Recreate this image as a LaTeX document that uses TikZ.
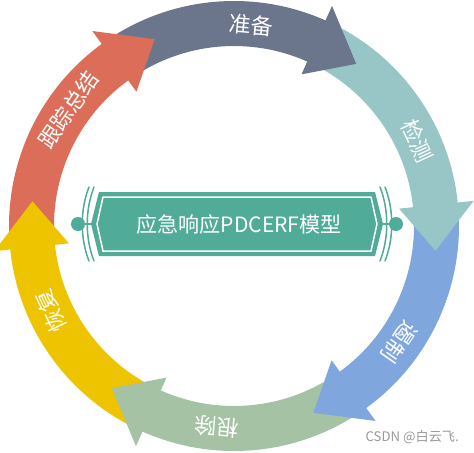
\documentclass[tikz,border=0pt]{standalone}
\usepackage{fontspec}
\newfontfamily\cjk{Noto Sans CJK SC}
\usetikzlibrary{calc,positioning}

\begin{document}
\begin{tikzpicture} [x=0.2mm, y=0.2mm,
    steplabel/.style={text=white, inner sep=0pt, font=\cjk\fontsize{12.5}{14}\selectfont},
    bannerline/.style={cbanner, line width=0.3mm, line cap=round}
  ]

\definecolor{cprep}{RGB}{107,118,141}
\definecolor{cdetect}{RGB}{152,198,198}
\definecolor{ccontain}{RGB}{128,166,222}
\definecolor{cerad}{RGB}{165,194,165}
\definecolor{crecov}{RGB}{238,195,0}
\definecolor{cfollow}{RGB}{220,109,89}
\definecolor{cbanner}{RGB}{80,171,152}

\useasboundingbox (-234,-226) rectangle (240,226);

% ring bodies (tails end up under the previous head)
\foreach \t/\col in {54/cprep, -6/cdetect, -66/ccontain, -126/cerad, 174/crecov, 114/cfollow}{
  \fill[\col] (\t+70:225) arc[start angle=\t+70, end angle=\t+9, radius=225]
     -- (\t+9:180) arc[start angle=\t+9, end angle=\t+70, radius=180] -- cycle;
}

% arrow heads
\foreach \t/\col in {54/cprep, -6/cdetect, -66/ccontain, -126/cerad, 174/crecov, 114/cfollow}{
  \fill[\col] (\t+12:241) -- (\t-1:203) -- (\t+12:166) -- cycle;
}

% step names
\foreach \t/\txt/\nm in {54/准备/prep, -6/检测/detect, -66/遏制/contain, -126/根除/erad, 174/恢复/recov, 114/跟踪总结/follow}{
  \node[steplabel, rotate=\t-59] (\nm) at (\t+31:202) {\txt};
}

% banner
\begin{scope}[shift={(3,2)}]
\fill[cbanner] (-138,32) -- (138,32) -- (146,0) -- (138,-32) -- (-138,-32) -- (-146,0) -- cycle;
\draw[white, line width=0.3mm] (-134,27) -- (134,27) -- (140,0) -- (134,-27) -- (-134,-27) -- (-140,0) -- cycle;

% ornaments at both ends
\foreach \s in {-1,1}{
  \draw[bannerline] (\s*143,37) .. controls (\s*152,14) and (\s*152,-14) .. (\s*143,-37);
  \draw[bannerline] (\s*148,37) .. controls (\s*157,14) and (\s*157,-14) .. (\s*148,-37);
  \draw[bannerline] (\s*146,0) -- (\s*159,0);
  \fill[cbanner] (\s*159,0) circle (7);
}

\node[text=white, font=\cjk\fontsize{12}{14}\selectfont] (title) at (2,0) {应急响应PDCERF模型};
\end{scope}

% watermark
\node[anchor=east, text=gray!80, font=\cjk\fontsize{7.5}{9}\selectfont] (mark) at (231,-211) {CSDN @白云飞.};

\end{tikzpicture}
\end{document}
